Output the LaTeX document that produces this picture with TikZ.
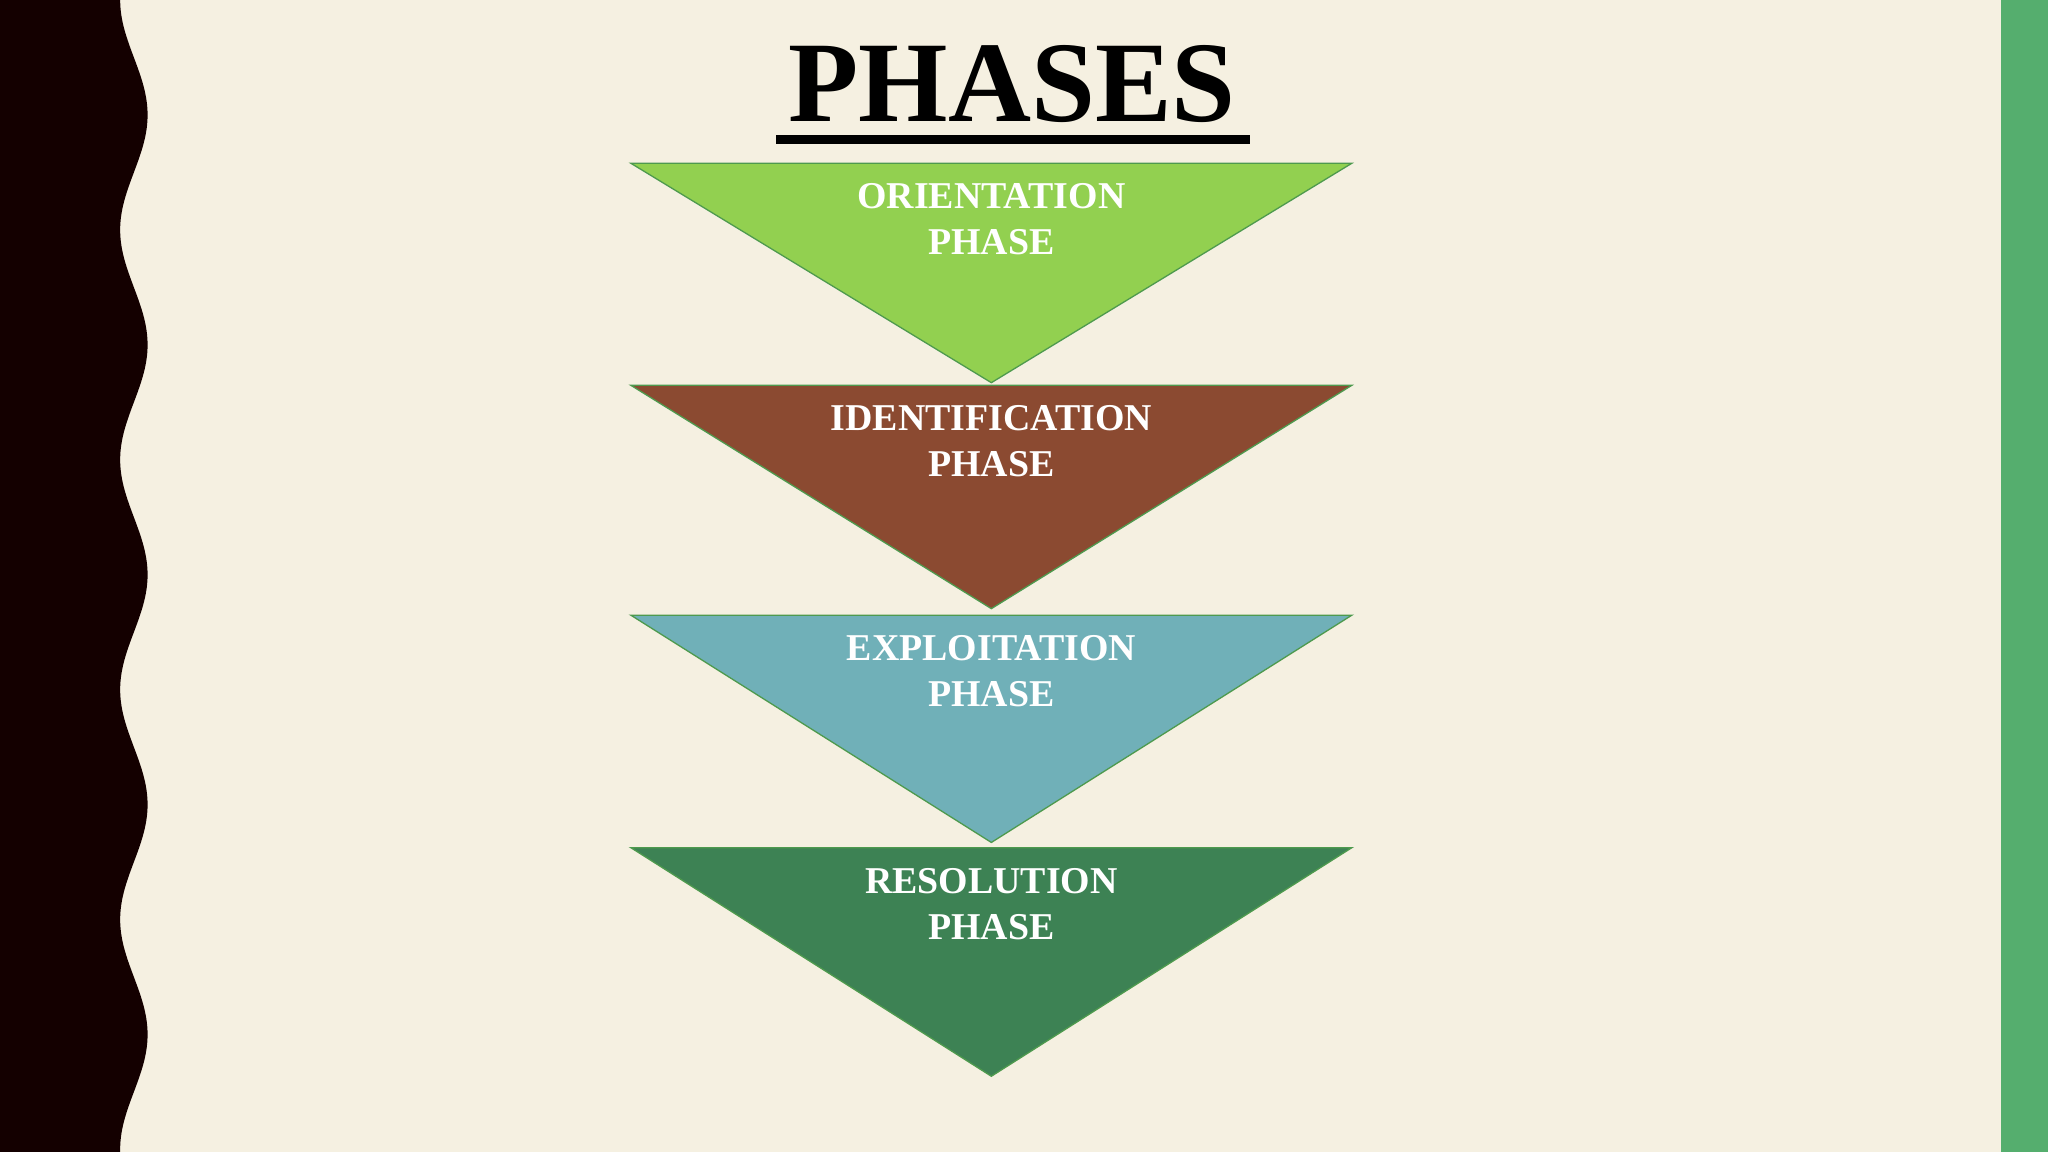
\documentclass[tikz,border=0pt]{standalone}
\usepackage{fontspec}
\setmainfont{Liberation Serif}
\definecolor{bg}{HTML}{F5F0E1}
\definecolor{rbar}{HTML}{55AE6E}
\definecolor{c1}{HTML}{92D050}
\definecolor{c2}{HTML}{8B4A31}
\definecolor{c3}{HTML}{70B0B8}
\definecolor{c4}{HTML}{3D8254}
\definecolor{edge}{HTML}{4E9A4E}
\tikzset{
  tri/.style={draw=edge, line width=1pt},
  lbl/.style={text=white, font=\bfseries\fontsize{29}{35}\selectfont, align=center},
}
\begin{document}
\begin{tikzpicture}[x=1pt,y=-1pt]
\fill[bg] (0,0) rectangle (1568,882);
\useasboundingbox (0,0) rectangle (1568,882);
\fill[black!92!red] (0,0) -- plot[domain=0:882,samples=200,smooth] ({102.5-10.5*cos(\x/176*360)},\x) -- (0,882) -- cycle;
\fill[rbar] (1532,0) rectangle (1568,882);
\node[font=\bfseries\fontsize{88}{90}\selectfont, inner sep=0] (title) at (775,64) {PHASES};
\fill (594,103) rectangle (957,110);
\foreach \t/\b/\c/\n/\a/\bb in {125/293/c1/t1/ORIENTATION/PHASE, 295/466/c2/t2/IDENTIFICATION/PHASE, 471/645/c3/t3/EXPLOITATION/PHASE, 649/824/c4/t4/RESOLUTION/PHASE}{
  \filldraw[tri, fill=\c] (483,\t) -- (1035,\t) -- (759,\b) -- cycle;
  \node[lbl] (\n) at (759,\t+43) {\a\\\bb};
}
\end{tikzpicture}
\end{document}
